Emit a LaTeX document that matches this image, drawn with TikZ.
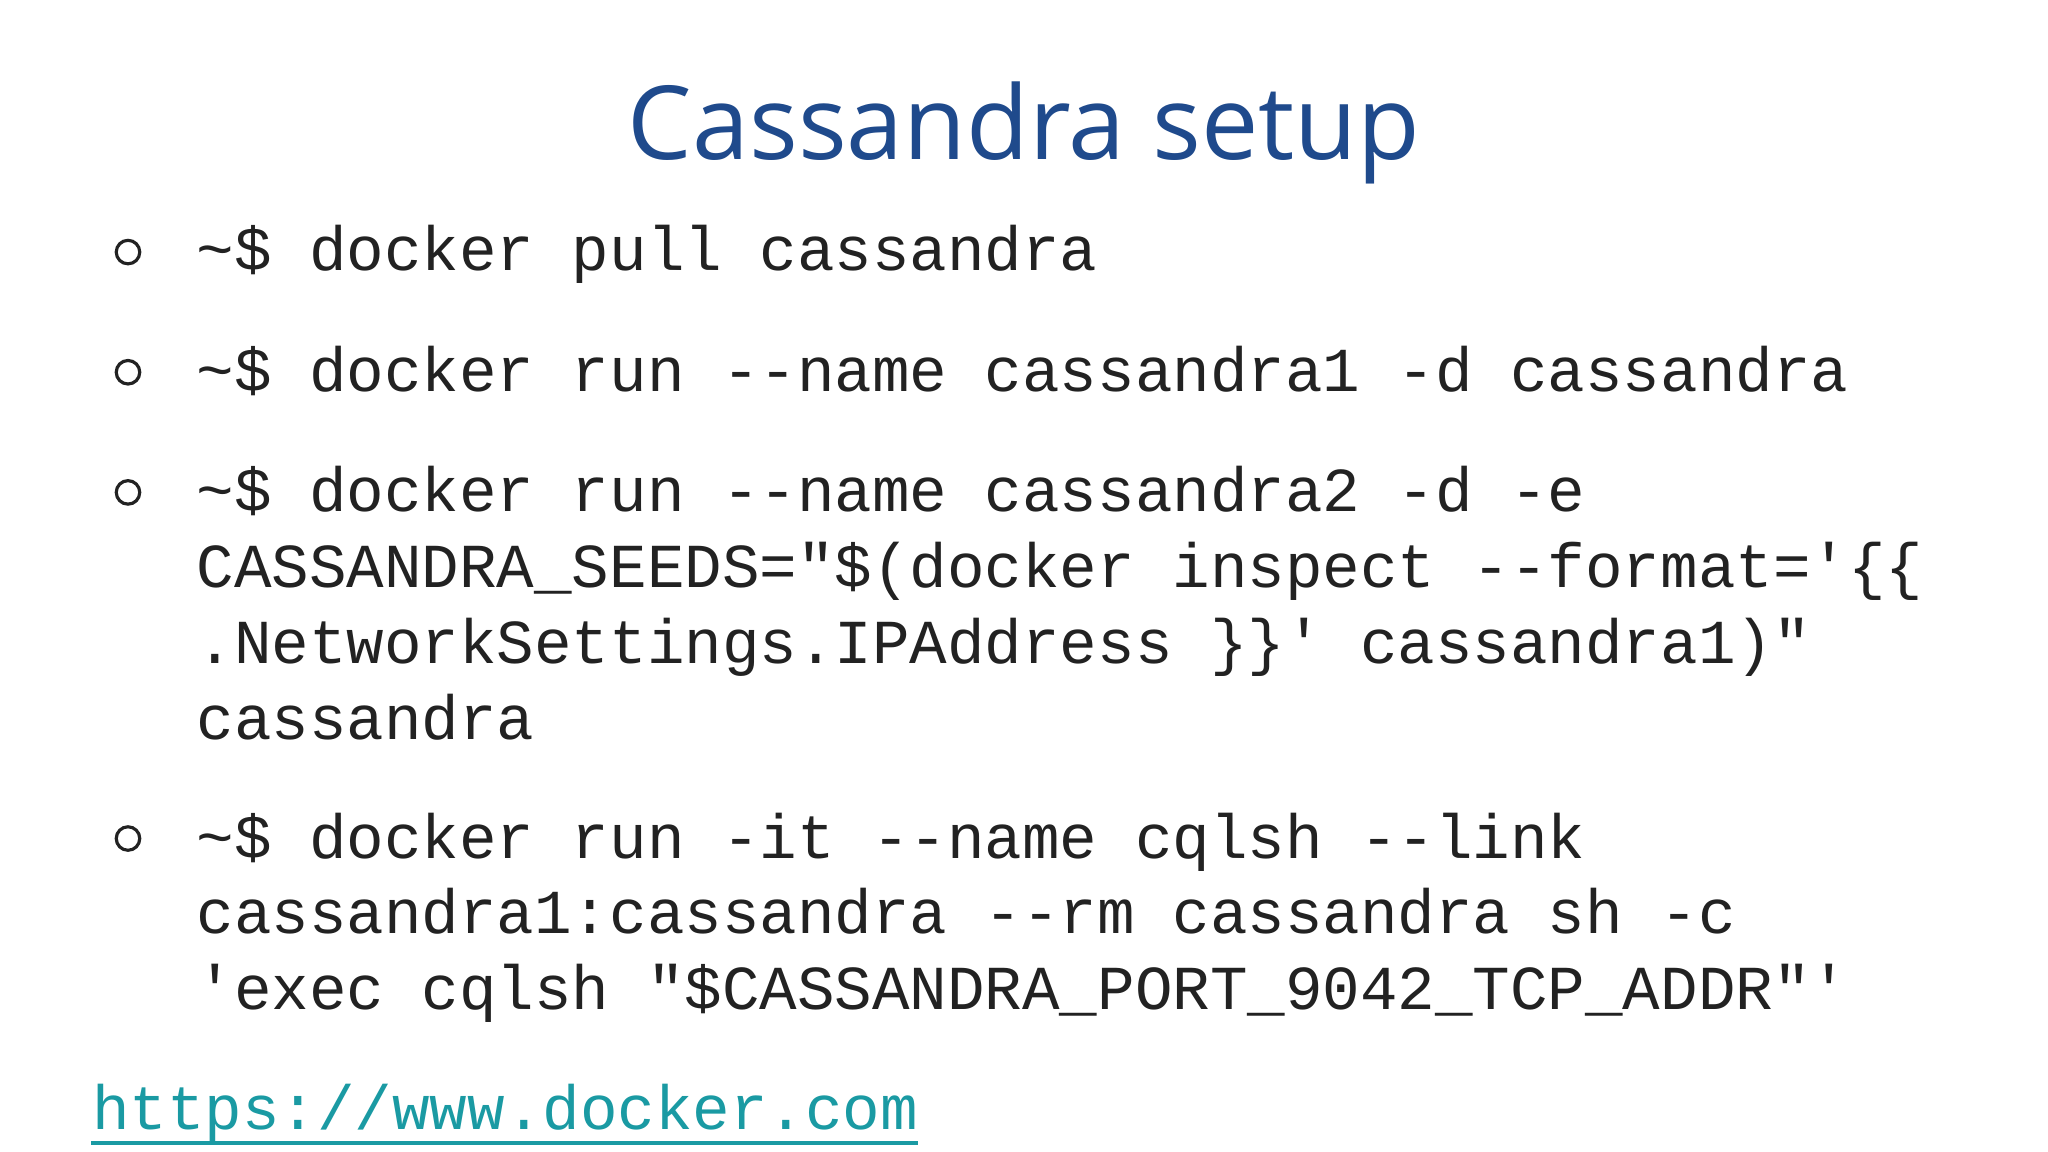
\documentclass[tikz,border=0pt]{standalone}
\usepackage{fontspec}
\setmainfont{Open Sans}
\setmonofont{Liberation Mono}
\definecolor{titleblue}{HTML}{1F4A8C}
\definecolor{teal}{HTML}{1A9AA3}
\definecolor{txt}{HTML}{222222}
\begin{document}
\begin{tikzpicture}[x=0.01306cm,y=-0.01306cm,
  cmd/.style={anchor=base west,inner sep=0pt,text=txt,font=\ttfamily\fontsize{17.8}{21.5}\selectfont},
  bul/.style={draw=txt,line width=0.9pt}]
\useasboundingbox[fill=white] (0,0) rectangle (1568,882);
\node[anchor=base,inner sep=0pt,text=titleblue,font=\fontsize{29.1}{34}\selectfont] (title) at (784,122) {Cassandra setup};
\foreach \y in {193,285,377,642} \draw[bul] (98,\y) circle (9);
\node[cmd] (l1) at (150,207) {\textasciitilde\$ docker pull cassandra};
\node[cmd] (l2) at (150,300) {\textasciitilde\$ docker run --name cassandra1 -d cassandra};
\node[cmd] (l3a) at (150,392) {\textasciitilde\$ docker run --name cassandra2 -d -e};
\node[cmd] (l3b) at (150,450) {CASSANDRA\_SEEDS="\$(docker inspect --format='\{\{};
\node[cmd] (l3c) at (150,508) {.NetworkSettings.IPAddress \}\}' cassandra1)"};
\node[cmd] (l3d) at (150,566) {cassandra};
\node[cmd] (l4a) at (150,657) {\textasciitilde\$ docker run -it --name cqlsh --link};
\node[cmd] (l4b) at (150,715) {cassandra1:cassandra --rm cassandra sh -c};
\node[cmd] (l4c) at (150,773) {'exec cqlsh "\$CASSANDRA\_PORT\_9042\_TCP\_ADDR"'};
\node[cmd,text=teal] (url) at (70,865) {https://www.docker.com};
\draw[teal,line width=1pt] (70,875) -- (703,875);
\end{tikzpicture}
\end{document}
